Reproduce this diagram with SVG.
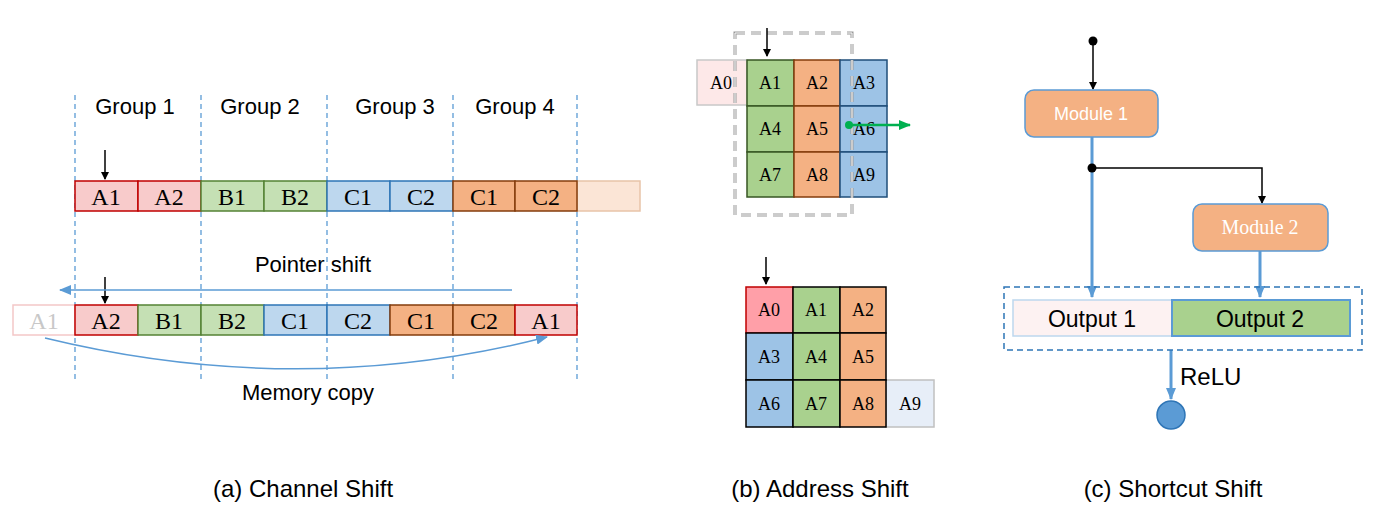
<svg xmlns="http://www.w3.org/2000/svg" width="1384" height="523" viewBox="0 0 1384 523">
<style>
.s{font-family:"Liberation Sans",Arial,sans-serif;fill:#000}
.t{font-family:"Liberation Serif","Times New Roman",serif;text-anchor:middle;fill:#000}
.g{stroke:#5b9bd5;stroke-width:1.3;stroke-dasharray:5,4;fill:none}
.ra{fill:#f8cbcb;stroke:#c00000;stroke-width:1.5}
.gr{fill:#c5e0b4;stroke:#548235;stroke-width:1.5}
.bl{fill:#bdd7ee;stroke:#2e75b6;stroke-width:1.5}
.or{fill:#f4b183;stroke:#843c0c;stroke-width:1.5}
.G{fill:#a9d18e;stroke:#375623;stroke-width:1.5}
.O{fill:#f4b183;stroke:#843c0c;stroke-width:1.5}
.B{fill:#9dc3e6;stroke:#1f4e79;stroke-width:1.5}
.K{stroke:#000;stroke-width:1.5}
</style>
<defs>
<marker id="ab" markerWidth="8" markerHeight="8" refX="7" refY="4" orient="auto" markerUnits="userSpaceOnUse"><path d="M0,0L8,4L0,8z" fill="#000"/></marker>
<marker id="abl" markerWidth="12" markerHeight="10" refX="11" refY="5" orient="auto" markerUnits="userSpaceOnUse"><path d="M0,0L12,5L0,10z" fill="#5b9bd5"/></marker>
<marker id="agr" markerWidth="12" markerHeight="10" refX="11" refY="5" orient="auto" markerUnits="userSpaceOnUse"><path d="M0,0L12,5L0,10z" fill="#00b050"/></marker>
</defs>
<g id="channel-shift">
<g class="g"><line x1="75" y1="95" x2="75" y2="380"/><line x1="201" y1="95" x2="201" y2="380"/><line x1="327" y1="95" x2="327" y2="380"/><line x1="453" y1="95" x2="453" y2="380"/><line x1="577" y1="95" x2="577" y2="380"/></g>
<g class="s" font-size="22" text-anchor="middle"><text x="135" y="114">Group 1</text><text x="260" y="114">Group 2</text><text x="395" y="114">Group 3</text><text x="515" y="114">Group 4</text></g>
<rect x="577" y="181" width="63" height="30" fill="#fbe5d6" stroke="#e8c3a8" stroke-width="1.5"/>
<rect class="ra" x="75" y="181" width="63" height="30"/><rect class="ra" x="138" y="181" width="63" height="30"/>
<rect class="gr" x="201" y="181" width="63" height="30"/><rect class="gr" x="264" y="181" width="63" height="30"/>
<rect class="bl" x="327" y="181" width="63" height="30"/><rect class="bl" x="390" y="181" width="63" height="30"/>
<rect class="or" x="453" y="181" width="62" height="30"/><rect class="or" x="515" y="181" width="62" height="30"/>
<g class="t" font-size="24"><text x="106" y="205">A1</text><text x="169" y="205">A2</text><text x="232" y="205">B1</text><text x="295" y="205">B2</text><text x="358" y="205">C1</text><text x="421" y="205">C2</text><text x="484" y="205">C1</text><text x="546" y="205">C2</text></g>
<line class="K" x1="105" y1="150" x2="105" y2="179" stroke-width="2.5" marker-end="url(#ab)"/>
<rect x="13" y="305" width="62" height="30" fill="#fff" stroke="#f4c7c7" stroke-width="1.5"/>
<rect class="ra" x="75" y="305" width="63" height="30"/><rect class="gr" x="138" y="305" width="63" height="30"/><rect class="gr" x="201" y="305" width="63" height="30"/>
<rect class="bl" x="264" y="305" width="63" height="30"/><rect class="bl" x="327" y="305" width="63" height="30"/>
<rect class="or" x="390" y="305" width="63" height="30"/><rect class="or" x="453" y="305" width="62" height="30"/>
<rect class="ra" x="515" y="305" width="62" height="30"/>
<g class="t" font-size="24"><text x="44" y="329" fill="#c8c8c8">A1</text><text x="106" y="329">A2</text><text x="169" y="329">B1</text><text x="232" y="329">B2</text><text x="295" y="329">C1</text><text x="358" y="329">C2</text><text x="421" y="329">C1</text><text x="484" y="329">C2</text><text x="546" y="329">A1</text></g>
<line class="K" x1="105" y1="277" x2="105" y2="303" stroke-width="2.5" marker-end="url(#ab)"/>
<text class="s" x="313" y="272" font-size="22" text-anchor="middle">Pointer shift</text>
<line x1="512" y1="290" x2="60" y2="290" stroke="#5b9bd5" stroke-width="1.5" marker-end="url(#abl)"/>
<path d="M45,338 Q300,400 547,337" fill="none" stroke="#5b9bd5" stroke-width="1.5" marker-end="url(#abl)"/>
<text class="s" x="308" y="400" font-size="22" text-anchor="middle">Memory copy</text>
<text class="s" x="303" y="497" font-size="24" text-anchor="middle">(a) Channel Shift</text>
</g>
<g id="address-shift">
<rect x="697" y="60" width="50" height="45" fill="#fde8e8" stroke="#c8c8c8" stroke-width="1.5"/>
<text class="t" x="721" y="89" font-size="18" fill="#d0c0c0">A0</text>
<rect class="G" x="747" y="60" width="47" height="46"/><rect class="O" x="794" y="60" width="46" height="46"/><rect class="B" x="840" y="60" width="47" height="46"/>
<rect class="G" x="747" y="106" width="47" height="46"/><rect class="O" x="794" y="106" width="46" height="46"/><rect class="B" x="840" y="106" width="47" height="46"/>
<rect class="G" x="747" y="152" width="47" height="45"/><rect class="O" x="794" y="152" width="46" height="45"/><rect class="B" x="840" y="152" width="47" height="45"/>
<g class="t" font-size="18"><text x="770" y="89">A1</text><text x="817" y="89">A2</text><text x="864" y="89">A3</text><text x="770" y="135">A4</text><text x="817" y="135">A5</text><text x="864" y="135">A6</text><text x="770" y="181">A7</text><text x="817" y="181">A8</text><text x="864" y="181">A9</text></g>
<rect x="735" y="33" width="117" height="182" fill="none" stroke="#999" stroke-width="3" stroke-dasharray="10,6"/>
<rect x="735" y="33" width="117" height="182" fill="none" stroke="#fff" stroke-width="1" stroke-dasharray="10,6"/>
<line class="K" x1="767" y1="28" x2="767" y2="56" stroke-width="2.5" marker-end="url(#ab)"/>
<circle cx="849" cy="125" r="4" fill="#00b050"/>
<line x1="849" y1="125" x2="910" y2="125" stroke="#00b050" stroke-width="2.5" marker-end="url(#agr)"/>
<rect x="886" y="380" width="48" height="47" fill="#e7eef8" stroke="#c0c0c0" stroke-width="1.5"/>
<text class="t" x="910" y="410" font-size="18" fill="#c0c8d8">A9</text>
<rect x="746" y="287" width="47" height="46" fill="#ff9fa8" stroke="#c00000" stroke-width="1.5"/>
<g stroke="#000" stroke-width="1.5">
<rect x="793" y="287" width="47" height="46" fill="#a9d18e"/><rect x="840" y="287" width="46" height="46" fill="#f4b183"/>
<rect x="746" y="333" width="47" height="47" fill="#9dc3e6"/><rect x="793" y="333" width="47" height="47" fill="#a9d18e"/><rect x="840" y="333" width="46" height="47" fill="#f4b183"/>
<rect x="746" y="380" width="47" height="47" fill="#9dc3e6"/><rect x="793" y="380" width="47" height="47" fill="#a9d18e"/><rect x="840" y="380" width="46" height="47" fill="#f4b183"/>
</g>
<g class="t" font-size="18"><text x="769" y="316">A0</text><text x="816" y="316">A1</text><text x="863" y="316">A2</text><text x="769" y="363">A3</text><text x="816" y="363">A4</text><text x="863" y="363">A5</text><text x="769" y="410">A6</text><text x="816" y="410">A7</text><text x="863" y="410">A8</text></g>
<line class="K" x1="766" y1="257" x2="766" y2="284" stroke-width="2.5" marker-end="url(#ab)"/>
<text class="s" x="820" y="497" font-size="24" text-anchor="middle">(b) Address Shift</text>
</g>
<g id="connectors">
<circle cx="1093" cy="41" r="4.5" fill="#000"/>
<line class="K" x1="1093" y1="41" x2="1093" y2="89" marker-end="url(#ab)"/>
<line x1="1092" y1="137" x2="1092" y2="297" stroke="#5b9bd5" stroke-width="3" marker-end="url(#abl)"/>
<circle cx="1092" cy="168" r="4.5" fill="#000"/>
<polyline points="1092,168 1262,168 1262,203" fill="none" stroke="#000" stroke-width="1.5" marker-end="url(#ab)"/>
<line x1="1260" y1="251" x2="1260" y2="297" stroke="#5b9bd5" stroke-width="3" marker-end="url(#abl)"/>
<line x1="1171" y1="350" x2="1171" y2="399" stroke="#5b9bd5" stroke-width="3" marker-end="url(#abl)"/>
</g>
<g id="module1"><rect x="1025" y="90" width="133" height="47" rx="9" fill="#f4b183" stroke="#5b9bd5" stroke-width="1.5"/><text class="s" x="1091" y="120" font-size="18" fill="#fff" style="fill:#fff" text-anchor="middle">Module  1</text></g>
<g id="module2"><rect x="1193" y="204" width="135" height="47" rx="9" fill="#f4b183" stroke="#5b9bd5" stroke-width="1.5"/><text class="t" x="1260" y="234" font-size="20" style="fill:#fff">Module 2</text></g>
<g id="outputs">
<rect x="1004" y="287" width="358" height="63" fill="none" stroke="#2e75b6" stroke-width="1.5" stroke-dasharray="6,4"/>
<rect x="1013" y="300" width="159" height="36" fill="#fdf2f2" stroke="#bdd7ee" stroke-width="1.5"/>
<rect x="1172" y="300" width="178" height="36" fill="#a9d18e" stroke="#5b9bd5" stroke-width="2"/>
<text class="s" x="1092" y="327" font-size="23" text-anchor="middle">Output  1</text>
<text class="s" x="1260" y="327" font-size="23" text-anchor="middle">Output  2</text>
</g>
<text class="s" x="1180" y="385" font-size="24">ReLU</text>
<g id="relu-out"><circle cx="1171" cy="415" r="14" fill="#5b9bd5" stroke="#2e75b6" stroke-width="1.5"/></g>
<text class="s" x="1173" y="497" font-size="24" text-anchor="middle">(c) Shortcut Shift</text>
</svg>
